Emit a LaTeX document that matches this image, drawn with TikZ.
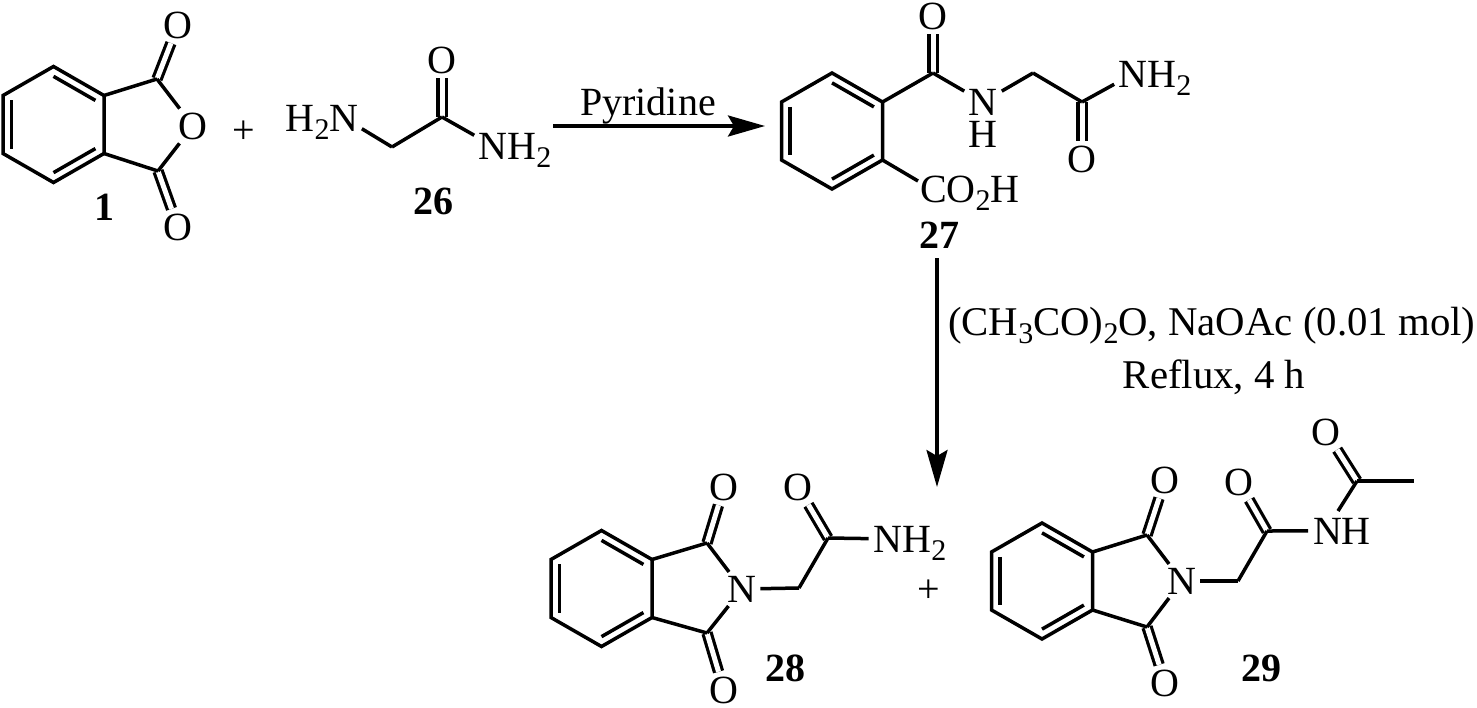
\documentclass[tikz,border=0pt]{standalone}
\usepackage{fontspec}
\setmainfont{Liberation Serif}
\usetikzlibrary{arrows.meta,calc}
\newcommand{\lowidx}[1]{\raisebox{-0.22em}{\fontsize{30}{30}\selectfont #1}}
\tikzset{
  bond/.style={line width=3.5pt},
  lbond/.style={bond, shorten >=5pt},
  nbond/.style={bond, shorten <=4pt},
  dbond/.style={line width=3.2pt, double, double distance=5pt, shorten >=5pt},
  atom/.style={inner sep=0pt, outer sep=0pt, font=\fontsize{40}{40}\selectfont},
  cond/.style={inner sep=0pt, outer sep=0pt, font=\fontsize{40.8}{40.8}\selectfont},
  cmpd/.style={inner sep=0pt, outer sep=0pt, font=\fontsize{40}{40}\selectfont\bfseries},
  rxn/.style={line width=3.5pt, -{Stealth[length=37pt,width=21pt,inset=6pt]}}
}
% benzene ring: prefix, centre
\newcommand{\benzoring}[2]{
  \coordinate (#1a) at ($#2 + (0,-58)$);
  \coordinate (#1b) at ($#2 + (-50.5,-29)$);
  \coordinate (#1c) at ($#2 + (-50.5,29)$);
  \coordinate (#1d) at ($#2 + (0,58)$);
  \coordinate (#1e) at ($#2 + (50.5,29)$);
  \coordinate (#1f) at ($#2 + (50.5,-29)$);
  \coordinate (#1m) at #2;
  \draw [bond] (#1a) -- (#1b) -- (#1c) -- (#1d) -- (#1e) -- (#1f) -- cycle;
  \draw [bond] ($(#1a)!0.17!(#1m)$) -- ($(#1f)!0.17!(#1m)$);
  \draw [bond] ($(#1b)!0.17!(#1m)$) -- ($(#1c)!0.17!(#1m)$);
  \draw [bond] ($(#1d)!0.17!(#1m)$) -- ($(#1e)!0.17!(#1m)$);
}
\begin{document}
\begin{tikzpicture}[x=1pt, y=-1pt]
  \useasboundingbox (0,0) rectangle (1477,707);

  % anhydride 1
  \benzoring{p}{(53.5,124.5)}
  \coordinate (pca) at (157,79);
  \coordinate (pcb) at (158,171);
  \node [atom] (poa) at (178,25) {O};
  \node [atom] (pob) at (178,227) {O};
  \node [atom] (poc) at (193,126) {O};
  \draw [dbond] (pca) -- (poa);
  \draw [dbond] (pcb) -- (pob);
  \draw [bond] (pf) -- (pca);
  \draw [bond] (pe) -- (pcb);
  \draw [lbond] (pca) -- (poc);
  \draw [lbond] (pcb) -- (poc);
  \node [cmpd] (lone) at (104,207) {1};
  \node [atom] (plusa) at (244,132) {+};

  % glycinamide 26
  \node [atom, anchor=base] (gn) at (344,131) {N};
  \node [atom, anchor=base east] (gh) at (gn.base west) {H\lowidx{2}};
  \coordinate (gca) at (392,147);
  \coordinate (gcb) at (442,117);
  \node [atom] (goa) at (442,60) {O};
  \node [atom, anchor=base] (gnb) at (493,159) {N};
  \node [atom, anchor=base west] (ghb) at (gnb.base east) {H\lowidx{2}};
  \draw [dbond] (gcb) -- (goa);
  \draw [nbond] (gn) -- (gca);
  \draw [bond] (gca) -- (gcb);
  \draw [lbond] (gcb) -- (gnb);
  \node [cmpd] (ltwo) at (433,201.5) {26};

  % first step
  \coordinate (stepa) at (553,126);
  \coordinate (stepb) at (765,126);
  \draw [rxn] (stepa) -- (stepb);
  \node [atom, anchor=base] (pyr) at (648,115) {Pyridine};

  % acid 27
  \benzoring{q}{(832,131)}
  \coordinate (qca) at (933,73);
  \node [atom] (qoa) at (933,16) {O};
  \node [atom] (qn) at (983,102) {N};
  \node [atom, anchor=base] (qh) at (983,147) {H};
  \coordinate (qcb) at (1033,73);
  \coordinate (qcc) at (1082,102);
  \node [atom] (qob) at (1082,159) {O};
  \node [atom, anchor=base] (qnb) at (1133,87) {N};
  \node [atom, anchor=base west] (qhb) at (qnb.base east) {H\lowidx{2}};
  \node [atom, anchor=base west] (qacid) at (920,202) {CO\lowidx{2}H};
  \coordinate (qend) at (918,181);
  \draw [dbond] (qca) -- (qoa);
  \draw [dbond] (qcc) -- (qob);
  \draw [bond] (qf) -- (qca);
  \draw [lbond] (qca) -- (qn);
  \draw [lbond] (qcb) -- (qn);
  \draw [bond] (qcb) -- (qcc);
  \draw [lbond] (qcc) -- (qnb);
  \draw [bond] (qe) -- (qend);
  \node [cmpd] (lthree) at (939,235) {27};

  % second step
  \coordinate (stepc) at (937,258);
  \coordinate (stepd) at (937,487);
  \draw [rxn] (stepc) -- (stepd);
  \node [cond, anchor=base west] (conda) at (948,335) {(CH\lowidx{3}CO)\lowidx{2}O, NaOAc (0.01 mol)};
  \node [cond, anchor=base] (condb) at (1214,388) {Reflux, 4 h};

  % imide 28
  \benzoring{r}{(601.5,588.5)}
  \coordinate (rca) at (707,543);
  \coordinate (rcb) at (707,633);
  \node [atom] (roa) at (724,487) {O};
  \node [atom] (rob) at (724,690) {O};
  \node [atom] (rn) at (742,589) {N};
  \coordinate (rcc) at (799,588);
  \coordinate (rcd) at (828,538);
  \node [atom] (roc) at (798,487) {O};
  \node [atom, anchor=base] (rnb) at (888,552) {N};
  \node [atom, anchor=base west] (rhb) at (rnb.base east) {H\lowidx{2}};
  \draw [dbond] (rca) -- (roa);
  \draw [dbond] (rcb) -- (rob);
  \draw [dbond] (rcd) -- (roc);
  \draw [bond] (rf) -- (rca);
  \draw [bond] (re) -- (rcb);
  \draw [lbond] (rca) -- (rn);
  \draw [lbond] (rcb) -- (rn);
  \draw [nbond] (rn) -- (rcc);
  \draw [bond] (rcc) -- (rcd);
  \draw [lbond] (rcd) -- (rnb);
  \node [cmpd] (lfour) at (785.5,668) {28};
  \node [atom] (plusb) at (929,591) {+};

  % imide 29
  \benzoring{s}{(1042,581)}
  \coordinate (sca) at (1147,535);
  \coordinate (scb) at (1147,627);
  \node [atom] (soa) at (1165,480) {O};
  \node [atom] (sob) at (1165,683) {O};
  \node [atom] (sn) at (1182,581) {N};
  \coordinate (scc) at (1238,581);
  \coordinate (scd) at (1267,531);
  \node [atom] (soc) at (1239,482) {O};
  \node [atom, anchor=base west] (snb) at (1313,544) {N};
  \node [atom, anchor=base west] (shb) at (snb.base east) {H};
  \coordinate (snt) at (1338,511);
  \coordinate (sce) at (1357,481);
  \coordinate (scf) at (1414,481);
  \node [atom] (sod) at (1326,432) {O};
  \draw [dbond] (sca) -- (soa);
  \draw [dbond] (scb) -- (sob);
  \draw [dbond] (scd) -- (soc);
  \draw [dbond] (sce) -- (sod);
  \draw [bond] (sf) -- (sca);
  \draw [bond] (se) -- (scb);
  \draw [lbond] (sca) -- (sn);
  \draw [lbond] (scb) -- (sn);
  \draw [nbond] (sn) -- (scc);
  \draw [bond] (scc) -- (scd);
  \draw [lbond] (scd) -- (snb);
  \draw [bond] (snt) -- (sce);
  \draw [bond] (sce) -- (scf);
  \node [cmpd] (lfive) at (1261,668) {29};
\end{tikzpicture}
\end{document}
